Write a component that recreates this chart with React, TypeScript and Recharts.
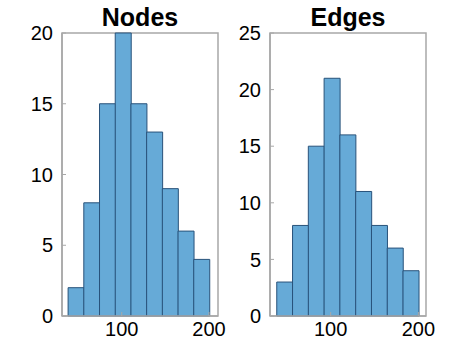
import React from "react";
import { BarChart, Bar, XAxis, YAxis, ReferenceArea } from "recharts";

const binCenters = [47.5, 65.5, 83.5, 101.5, 119.5, 137.5, 155.5, 173.5, 191.5];
const nodeCounts = [2, 8, 15, 20, 15, 13, 9, 6, 4];
const edgeCounts = [3, 8, 15, 21, 16, 11, 8, 6, 4];
const xTicks = [100, 200];
const nodeYTicks = [0, 5, 10, 15, 20];
const edgeYTicks = [0, 5, 10, 15, 20, 25];

const FONT = "'Liberation Sans', Arial, Helvetica, sans-serif";
const AXIS = "#a8a8a8";

type PanelProps = {
  title: string;
  counts: number[];
  yTicks: number[];
  xDomain: [number, number];
  marginLeft: number;
  marginRight: number;
};

function Panel({ title, counts, yTicks, xDomain, marginLeft, marginRight }: PanelProps) {
  const data = binCenters.map((x, i) => ({ x, count: counts[i] }));
  const yMax = yTicks[yTicks.length - 1];
  return (
    <div style={{ position: "relative", width: 237, height: 355 }}>
      <div
        style={{
          position: "absolute",
          top: 3,
          left: marginLeft,
          width: 237 - marginLeft - marginRight,
          textAlign: "center",
          fontFamily: FONT,
          fontWeight: "bold",
          fontSize: 25,
          color: "#000",
          lineHeight: "29px",
        }}
      >
        {title}
      </div>
      <BarChart
        width={237}
        height={355}
        data={data}
        margin={{ top: 33, right: marginRight, bottom: 0, left: marginLeft - 40 }}
        barCategoryGap={0}
        barGap={0}
      >
        <XAxis
          xAxisId="b"
          type="number"
          dataKey="x"
          domain={xDomain}
          ticks={xTicks}
          allowDataOverflow
          height={39}
          tickSize={-4}
          tickMargin={10}
          tick={{ fill: "#000", fontSize: 20, fontFamily: FONT }}
          tickLine={{ stroke: AXIS }}
          axisLine={{ stroke: AXIS, strokeWidth: 1.5 }}
        />
        <YAxis
          yAxisId="l"
          domain={[0, yMax]}
          ticks={yTicks}
          width={40}
          tickSize={-4}
          tickMargin={13}
          tick={{ fill: "#000", fontSize: 20, fontFamily: FONT }}
          tickLine={{ stroke: AXIS }}
          axisLine={{ stroke: AXIS, strokeWidth: 1.5 }}
        />
        <Bar
          xAxisId="b"
          yAxisId="l"
          dataKey="count"
          fill="#66aad7"
          stroke="#28527a"
          strokeWidth={1}
          isAnimationActive={false}
        />
        <ReferenceArea
          xAxisId="b"
          yAxisId="l"
          x1={xDomain[0]}
          x2={xDomain[1]}
          y1={0}
          y2={yMax}
          fill="none"
          stroke={AXIS}
          strokeWidth={1.5}
          ifOverflow="visible"
        />
      </BarChart>
    </div>
  );
}

export default function App() {
  return (
    <div
      style={{
        position: "absolute",
        left: 0,
        top: 0,
        width: 474,
        height: 355,
        background: "#fff",
        display: "flex",
      }}
    >
      <Panel title="Nodes" counts={nodeCounts} yTicks={nodeYTicks} xDomain={[31.5, 210.3]} marginLeft={62} marginRight={19} />
      <Panel title="Edges" counts={edgeCounts} yTicks={edgeYTicks} xDomain={[30.8, 208.7]} marginLeft={33} marginRight={48} />
    </div>
  );
}
